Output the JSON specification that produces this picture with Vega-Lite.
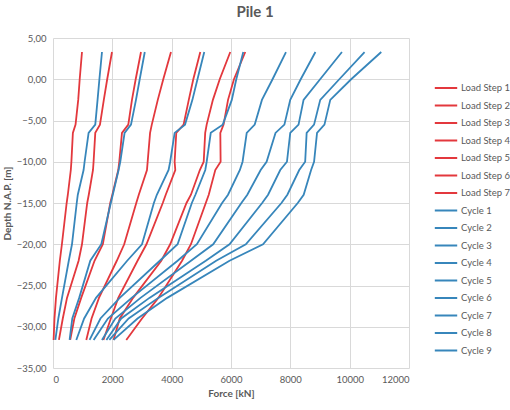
{
  "$schema": "https://vega.github.io/schema/vega-lite/v6.json",
  "autosize": "none",
  "width": 356,
  "height": 330,
  "padding": {"left": 53, "top": 38, "right": 101, "bottom": 42},
  "background": "white",
  "title": {"text": "Pile 1", "anchor": "middle", "dx": 24, "offset": 13, "fontSize": 15, "font": "Lato", "fontWeight": "bold", "color": "#595959"},
  "config": {
    "font": "Lato",
    "view": {"stroke": null},
    "axis": {"gridColor": "#d9d9d9", "gridWidth": 1, "domain": false, "ticks": false, "labelColor": "#595959", "labelFontSize": 9.5, "titleColor": "#595959", "titleFontSize": 10, "titleFontWeight": "bold"}
  },
  "data": {
    "values": [
      {"s": "Load Step 1", "d": 3.3, "f": 977}, {"s": "Load Step 1", "d": 0, "f": 900}, {"s": "Load Step 1", "d": -2.5, "f": 850}, {"s": "Load Step 1", "d": -5.5, "f": 760}, {"s": "Load Step 1", "d": -6.5, "f": 670}, {"s": "Load Step 1", "d": -10, "f": 620}, {"s": "Load Step 1", "d": -11, "f": 600}, {"s": "Load Step 1", "d": -14, "f": 500}, {"s": "Load Step 1", "d": -15, "f": 460}, {"s": "Load Step 1", "d": -20, "f": 300}, {"s": "Load Step 1", "d": -22, "f": 230}, {"s": "Load Step 1", "d": -26.5, "f": 100}, {"s": "Load Step 1", "d": -29, "f": 50}, {"s": "Load Step 1", "d": -31.6, "f": 20},
      {"s": "Load Step 2", "d": 3.3, "f": 1988}, {"s": "Load Step 2", "d": 0, "f": 1827}, {"s": "Load Step 2", "d": -2.5, "f": 1713}, {"s": "Load Step 2", "d": -5.5, "f": 1583}, {"s": "Load Step 2", "d": -6.5, "f": 1425}, {"s": "Load Step 2", "d": -10, "f": 1368}, {"s": "Load Step 2", "d": -11, "f": 1348}, {"s": "Load Step 2", "d": -14, "f": 1206}, {"s": "Load Step 2", "d": -15, "f": 1153}, {"s": "Load Step 2", "d": -20, "f": 977}, {"s": "Load Step 2", "d": -22, "f": 863}, {"s": "Load Step 2", "d": -26.5, "f": 472}, {"s": "Load Step 2", "d": -29, "f": 330}, {"s": "Load Step 2", "d": -31.6, "f": 200},
      {"s": "Load Step 3", "d": 3.3, "f": 2966}, {"s": "Load Step 3", "d": 0, "f": 2787}, {"s": "Load Step 3", "d": -2.5, "f": 2662}, {"s": "Load Step 3", "d": -5.5, "f": 2538}, {"s": "Load Step 3", "d": -6.5, "f": 2325}, {"s": "Load Step 3", "d": -10, "f": 2234}, {"s": "Load Step 3", "d": -11, "f": 2200}, {"s": "Load Step 3", "d": -14, "f": 2000}, {"s": "Load Step 3", "d": -15, "f": 1930}, {"s": "Load Step 3", "d": -20, "f": 1680}, {"s": "Load Step 3", "d": -22, "f": 1400}, {"s": "Load Step 3", "d": -26.5, "f": 950}, {"s": "Load Step 3", "d": -29, "f": 720}, {"s": "Load Step 3", "d": -31.6, "f": 580},
      {"s": "Load Step 4", "d": 3.3, "f": 3977}, {"s": "Load Step 4", "d": 0, "f": 3717}, {"s": "Load Step 4", "d": -2.5, "f": 3532}, {"s": "Load Step 4", "d": -5.5, "f": 3330}, {"s": "Load Step 4", "d": -6.5, "f": 3272}, {"s": "Load Step 4", "d": -10, "f": 3191}, {"s": "Load Step 4", "d": -11, "f": 3168}, {"s": "Load Step 4", "d": -14, "f": 2892}, {"s": "Load Step 4", "d": -15, "f": 2807}, {"s": "Load Step 4", "d": -20, "f": 2400}, {"s": "Load Step 4", "d": -22, "f": 2150}, {"s": "Load Step 4", "d": -26.5, "f": 1550}, {"s": "Load Step 4", "d": -29, "f": 1300}, {"s": "Load Step 4", "d": -31.6, "f": 1122},
      {"s": "Load Step 5", "d": 3.3, "f": 4965}, {"s": "Load Step 5", "d": 0, "f": 4729}, {"s": "Load Step 5", "d": -2.5, "f": 4577}, {"s": "Load Step 5", "d": -5.5, "f": 4402}, {"s": "Load Step 5", "d": -6.5, "f": 4155}, {"s": "Load Step 5", "d": -10, "f": 4100}, {"s": "Load Step 5", "d": -11, "f": 4122}, {"s": "Load Step 5", "d": -14, "f": 3800}, {"s": "Load Step 5", "d": -15, "f": 3700}, {"s": "Load Step 5", "d": -20, "f": 3150}, {"s": "Load Step 5", "d": -22, "f": 2850}, {"s": "Load Step 5", "d": -26.5, "f": 2200}, {"s": "Load Step 5", "d": -29, "f": 1950}, {"s": "Load Step 5", "d": -31.6, "f": 1700},
      {"s": "Load Step 6", "d": 3.3, "f": 5976}, {"s": "Load Step 6", "d": 0, "f": 5620}, {"s": "Load Step 6", "d": -2.5, "f": 5390}, {"s": "Load Step 6", "d": -5.5, "f": 5180}, {"s": "Load Step 6", "d": -6.5, "f": 5130}, {"s": "Load Step 6", "d": -10, "f": 5080}, {"s": "Load Step 6", "d": -11, "f": 4950}, {"s": "Load Step 6", "d": -14, "f": 4650}, {"s": "Load Step 6", "d": -15, "f": 4500}, {"s": "Load Step 6", "d": -20, "f": 3950}, {"s": "Load Step 6", "d": -22, "f": 3650}, {"s": "Load Step 6", "d": -26.5, "f": 2700}, {"s": "Load Step 6", "d": -29, "f": 2250}, {"s": "Load Step 6", "d": -31.6, "f": 2040},
      {"s": "Load Step 7", "d": 3.3, "f": 6481}, {"s": "Load Step 7", "d": 0, "f": 6100}, {"s": "Load Step 7", "d": -2.5, "f": 5900}, {"s": "Load Step 7", "d": -5.5, "f": 5750}, {"s": "Load Step 7", "d": -6.5, "f": 5640}, {"s": "Load Step 7", "d": -10, "f": 5650}, {"s": "Load Step 7", "d": -11, "f": 5470}, {"s": "Load Step 7", "d": -14, "f": 5250}, {"s": "Load Step 7", "d": -15, "f": 5150}, {"s": "Load Step 7", "d": -20, "f": 4650}, {"s": "Load Step 7", "d": -22, "f": 4350}, {"s": "Load Step 7", "d": -26.5, "f": 3550}, {"s": "Load Step 7", "d": -29, "f": 3000}, {"s": "Load Step 7", "d": -31.6, "f": 2470},
      {"s": "Cycle 1", "d": 3.3, "f": 1651}, {"s": "Cycle 1", "d": 0, "f": 1564}, {"s": "Cycle 1", "d": -2.5, "f": 1502}, {"s": "Cycle 1", "d": -5.5, "f": 1425}, {"s": "Cycle 1", "d": -6.5, "f": 1200}, {"s": "Cycle 1", "d": -10, "f": 1065}, {"s": "Cycle 1", "d": -11, "f": 1031}, {"s": "Cycle 1", "d": -14, "f": 836}, {"s": "Cycle 1", "d": -15, "f": 800}, {"s": "Cycle 1", "d": -20, "f": 640}, {"s": "Cycle 1", "d": -22, "f": 532}, {"s": "Cycle 1", "d": -26.5, "f": 303}, {"s": "Cycle 1", "d": -29, "f": 180}, {"s": "Cycle 1", "d": -31.6, "f": 80},
      {"s": "Cycle 2", "d": 3.3, "f": 3094}, {"s": "Cycle 2", "d": 0, "f": 2923}, {"s": "Cycle 2", "d": -2.5, "f": 2797}, {"s": "Cycle 2", "d": -5.5, "f": 2629}, {"s": "Cycle 2", "d": -6.5, "f": 2413}, {"s": "Cycle 2", "d": -10, "f": 2268}, {"s": "Cycle 2", "d": -11, "f": 2211}, {"s": "Cycle 2", "d": -14, "f": 2015}, {"s": "Cycle 2", "d": -15, "f": 1948}, {"s": "Cycle 2", "d": -20, "f": 1628}, {"s": "Cycle 2", "d": -22, "f": 1257}, {"s": "Cycle 2", "d": -26.5, "f": 883}, {"s": "Cycle 2", "d": -29, "f": 650}, {"s": "Cycle 2", "d": -31.6, "f": 560},
      {"s": "Cycle 3", "d": 3.3, "f": 5099}, {"s": "Cycle 3", "d": 0, "f": 4870}, {"s": "Cycle 3", "d": -2.5, "f": 4699}, {"s": "Cycle 3", "d": -5.5, "f": 4450}, {"s": "Cycle 3", "d": -6.5, "f": 4100}, {"s": "Cycle 3", "d": -10, "f": 3950}, {"s": "Cycle 3", "d": -11, "f": 3896}, {"s": "Cycle 3", "d": -14, "f": 3500}, {"s": "Cycle 3", "d": -15, "f": 3400}, {"s": "Cycle 3", "d": -20, "f": 3000}, {"s": "Cycle 3", "d": -22, "f": 2500}, {"s": "Cycle 3", "d": -26.5, "f": 1450}, {"s": "Cycle 3", "d": -29, "f": 1050}, {"s": "Cycle 3", "d": -31.6, "f": 785},
      {"s": "Cycle 4", "d": 3.3, "f": 6414}, {"s": "Cycle 4", "d": 0, "f": 6178}, {"s": "Cycle 4", "d": -2.5, "f": 6027}, {"s": "Cycle 4", "d": -5.5, "f": 5722}, {"s": "Cycle 4", "d": -6.5, "f": 5318}, {"s": "Cycle 4", "d": -10, "f": 5180}, {"s": "Cycle 4", "d": -11, "f": 5133}, {"s": "Cycle 4", "d": -14, "f": 4800}, {"s": "Cycle 4", "d": -15, "f": 4680}, {"s": "Cycle 4", "d": -20, "f": 4200}, {"s": "Cycle 4", "d": -22, "f": 3600}, {"s": "Cycle 4", "d": -26.5, "f": 2250}, {"s": "Cycle 4", "d": -29, "f": 1600}, {"s": "Cycle 4", "d": -31.6, "f": 1233},
      {"s": "Cycle 5", "d": 3.3, "f": 7853}, {"s": "Cycle 5", "d": 0, "f": 7400}, {"s": "Cycle 5", "d": -2.5, "f": 7043}, {"s": "Cycle 5", "d": -5.5, "f": 6800}, {"s": "Cycle 5", "d": -6.5, "f": 6530}, {"s": "Cycle 5", "d": -10, "f": 6390}, {"s": "Cycle 5", "d": -11, "f": 6300}, {"s": "Cycle 5", "d": -14, "f": 5900}, {"s": "Cycle 5", "d": -15, "f": 5700}, {"s": "Cycle 5", "d": -20, "f": 4850}, {"s": "Cycle 5", "d": -22, "f": 4200}, {"s": "Cycle 5", "d": -26.5, "f": 2650}, {"s": "Cycle 5", "d": -29, "f": 1850}, {"s": "Cycle 5", "d": -31.6, "f": 1370},
      {"s": "Cycle 6", "d": 3.3, "f": 8846}, {"s": "Cycle 6", "d": 0, "f": 8350}, {"s": "Cycle 6", "d": -2.5, "f": 7997}, {"s": "Cycle 6", "d": -5.5, "f": 7800}, {"s": "Cycle 6", "d": -6.5, "f": 7500}, {"s": "Cycle 6", "d": -10, "f": 7200}, {"s": "Cycle 6", "d": -11, "f": 7000}, {"s": "Cycle 6", "d": -14, "f": 6550}, {"s": "Cycle 6", "d": -15, "f": 6350}, {"s": "Cycle 6", "d": -20, "f": 5400}, {"s": "Cycle 6", "d": -22, "f": 4650}, {"s": "Cycle 6", "d": -26.5, "f": 2950}, {"s": "Cycle 6", "d": -29, "f": 2100}, {"s": "Cycle 6", "d": -31.6, "f": 1650},
      {"s": "Cycle 7", "d": 3.3, "f": 9740}, {"s": "Cycle 7", "d": 0, "f": 9004}, {"s": "Cycle 7", "d": -2.5, "f": 8446}, {"s": "Cycle 7", "d": -5.5, "f": 8277}, {"s": "Cycle 7", "d": -6.5, "f": 7997}, {"s": "Cycle 7", "d": -10, "f": 7886}, {"s": "Cycle 7", "d": -11, "f": 7660}, {"s": "Cycle 7", "d": -14, "f": 7250}, {"s": "Cycle 7", "d": -15, "f": 7050}, {"s": "Cycle 7", "d": -20, "f": 5950}, {"s": "Cycle 7", "d": -22, "f": 5150}, {"s": "Cycle 7", "d": -26.5, "f": 3250}, {"s": "Cycle 7", "d": -29, "f": 2300}, {"s": "Cycle 7", "d": -31.6, "f": 1800},
      {"s": "Cycle 8", "d": 3.3, "f": 10502}, {"s": "Cycle 8", "d": 0, "f": 9650}, {"s": "Cycle 8", "d": -2.5, "f": 9008}, {"s": "Cycle 8", "d": -5.5, "f": 8800}, {"s": "Cycle 8", "d": -6.5, "f": 8550}, {"s": "Cycle 8", "d": -10, "f": 8500}, {"s": "Cycle 8", "d": -11, "f": 8300}, {"s": "Cycle 8", "d": -14, "f": 7900}, {"s": "Cycle 8", "d": -15, "f": 7700}, {"s": "Cycle 8", "d": -20, "f": 6500}, {"s": "Cycle 8", "d": -22, "f": 5500}, {"s": "Cycle 8", "d": -26.5, "f": 3550}, {"s": "Cycle 8", "d": -29, "f": 2550}, {"s": "Cycle 8", "d": -31.6, "f": 1900},
      {"s": "Cycle 9", "d": 3.3, "f": 11065}, {"s": "Cycle 9", "d": 0, "f": 10050}, {"s": "Cycle 9", "d": -2.5, "f": 9346}, {"s": "Cycle 9", "d": -5.5, "f": 9150}, {"s": "Cycle 9", "d": -6.5, "f": 8900}, {"s": "Cycle 9", "d": -10, "f": 8800}, {"s": "Cycle 9", "d": -11, "f": 8700}, {"s": "Cycle 9", "d": -14, "f": 8450}, {"s": "Cycle 9", "d": -15, "f": 8250}, {"s": "Cycle 9", "d": -20, "f": 7080}, {"s": "Cycle 9", "d": -22, "f": 5950}, {"s": "Cycle 9", "d": -26.5, "f": 3850}, {"s": "Cycle 9", "d": -29, "f": 2850}, {"s": "Cycle 9", "d": -31.6, "f": 2042}
    ]
  },
  "mark": {"type": "line", "strokeWidth": 1.8},
  "encoding": {
    "x": {"field": "f", "type": "quantitative", "title": "Force [kN]", "scale": {"domain": [0, 12000], "nice": false}, "axis": {"values": [0, 2000, 4000, 6000, 8000, 10000, 12000], "format": "d", "labelPadding": 6, "titlePadding": 5}},
    "y": {"field": "d", "type": "quantitative", "title": "Depth N.A.P. [m]", "scale": {"domain": [-35, 5], "nice": false}, "axis": {"values": [-35, -30, -25, -20, -15, -10, -5, 0, 5], "labelExpr": "replace(format(datum.value, '.2f'), '.', ',')", "labelPadding": 7, "titlePadding": 4}},
    "order": {"field": "d", "sort": "descending"},
    "color": {
      "field": "s", "type": "nominal", "title": null,
      "scale": {
        "domain": ["Load Step 1", "Load Step 2", "Load Step 3", "Load Step 4", "Load Step 5", "Load Step 6", "Load Step 7", "Cycle 1", "Cycle 2", "Cycle 3", "Cycle 4", "Cycle 5", "Cycle 6", "Cycle 7", "Cycle 8", "Cycle 9"],
        "range": ["#e3383d", "#e3383d", "#e3383d", "#e3383d", "#e3383d", "#e3383d", "#e3383d", "#3786bb", "#3786bb", "#3786bb", "#3786bb", "#3786bb", "#3786bb", "#3786bb", "#3786bb", "#3786bb"]
      },
      "legend": {"orient": "none", "legendX": 384, "legendY": 41, "symbolType": "M-1.4,0H1.4", "symbolSize": 256, "symbolStrokeWidth": 2, "labelFontSize": 9.5, "labelColor": "#595959", "labelOffset": 6, "rowPadding": 3.5, "labelLimit": 60}
    }
  }
}
